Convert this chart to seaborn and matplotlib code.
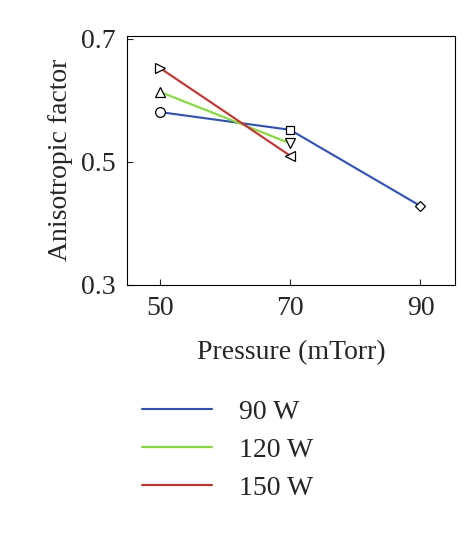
import matplotlib
matplotlib.use("Agg")
import matplotlib.pyplot as plt
import seaborn as sns
import pandas as pd

pressure_90w = [50, 70, 90]
factor_90w = [0.581, 0.552, 0.428]
pressure_120w = [50, 70]
factor_120w = [0.614, 0.530]
pressure_150w = [50, 70]
factor_150w = [0.653, 0.510]

sns.set_style("ticks")
plt.rcParams['font.family'] = ['Liberation Serif', 'DejaVu Serif']

fig = plt.figure(figsize=(4.74, 5.35), dpi=100)
ax = fig.add_axes([0.268, 0.468, 0.692, 0.465])

series = [
    ("90 W", pressure_90w, factor_90w, "#2a4fc9", ["o", "s", "D"]),
    ("120 W", pressure_120w, factor_120w, "#7de02a", ["^", "v"]),
    ("150 W", pressure_150w, factor_150w, "#d42a2a", [">", "<"]),
]
for label, xs, ys, col, marks in series:
    df = pd.DataFrame({"x": xs, "y": ys})
    sns.lineplot(data=df, x="x", y="y", ax=ax, color=col, lw=1.5, label=label)
    for x, y, m in zip(xs, ys, marks):
        size = {"D": 5, "s": 6}.get(m, 7)
        ax.plot(x, y, marker=m, ms=size, mfc="white",
                mec="black", mew=0.9, ls="none")

ax.set_xlim(45, 95.3)
ax.set_ylim(0.3, 0.705)
ax.set_xticks([50, 70, 90])
ax.set_yticks([0.3, 0.5, 0.7])
ax.set_yticklabels(["0.3", "0.5", "0.7"])
ax.tick_params(labelsize=20, direction="in", length=4, pad=8)
ax.set_xlabel("Pressure (mTorr)", fontsize=20, labelpad=14)
ax.set_ylabel("Anisotropic factor", fontsize=20, labelpad=6)
for s in ax.spines.values():
    s.set_visible(True)
    s.set_color("black")

ax.legend(loc="upper left", bbox_to_anchor=(-0.03, -0.36), frameon=False,
          fontsize=20, handlelength=2.5, handletextpad=1.0, labelspacing=0.45)

fig.savefig("out.png", dpi=100)
